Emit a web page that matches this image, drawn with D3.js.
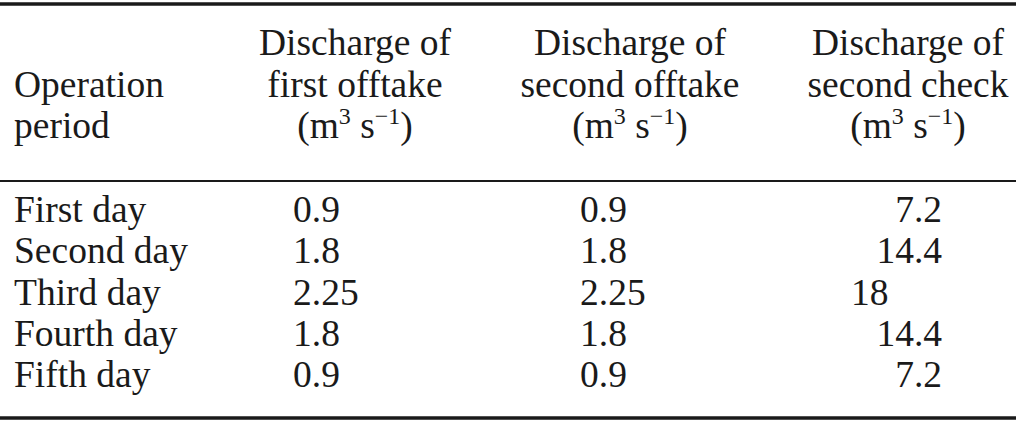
<!DOCTYPE html>
<html><head><meta charset="utf-8">
<script src="https://cdn.jsdelivr.net/npm/d3@7"></script>
<style>body{margin:0;background:#fff}text{font-family:"Liberation Serif","DejaVu Serif",serif;font-size:37.5px;fill:#1a1a1a}</style>
</head><body><svg id="c" width="1016" height="423"></svg>
<script>
const periods=["First day","Second day","Third day","Fourth day","Fifth day"];
const firstOfftake=["0.9","1.8","2.25","1.8","0.9"];
const secondOfftake=["0.9","1.8","2.25","1.8","0.9"];
const secondCheck=["7.2","14.4","18","14.4","7.2"];
const headers=[["Discharge of","first offtake"],["Discharge of","second offtake"],["Discharge of","second check"]];

const svg=d3.select("#c");
const y=d3.scalePoint().domain(periods).range([222,387]);
const rule=(yy,w)=>svg.append("line").attr("x1",0).attr("x2",1016).attr("y1",yy).attr("y2",yy).attr("stroke","#1a1a1a").attr("stroke-width",w);
rule(4,3.5);rule(181,2);rule(418,3.5);

svg.append("text").attr("x",14).attr("y",97).text("Operation");
svg.append("text").attr("x",14).attr("y",138).text("period");
const centers=[355,630,908];
headers.forEach((h,i)=>{
  svg.append("text").attr("x",centers[i]).attr("y",55).attr("text-anchor","middle").text(h[0]);
  svg.append("text").attr("x",centers[i]).attr("y",97).attr("text-anchor","middle").text(h[1]);
  const t=svg.append("text").attr("x",centers[i]).attr("y",138).attr("text-anchor","middle");
  t.append("tspan").text("(m");
  t.append("tspan").attr("dy",-14).attr("font-size",24).text("3");
  t.append("tspan").attr("dy",14).text(" s");
  t.append("tspan").attr("dy",-14).attr("font-size",24).text("\u22121");
  t.append("tspan").attr("dy",14).text(")");
});
periods.forEach((p,i)=>{
  svg.append("text").attr("x",14).attr("y",y(p)).text(p);
  svg.append("text").attr("x",293).attr("y",y(p)).text(firstOfftake[i]);
  svg.append("text").attr("x",580).attr("y",y(p)).text(secondOfftake[i]);
  const v=secondCheck[i];
  if(v.includes(".")) svg.append("text").attr("x",942).attr("y",y(p)).attr("text-anchor","end").text(v);
  else svg.append("text").attr("x",851).attr("y",y(p)).text(v);
});
</script></body></html>
